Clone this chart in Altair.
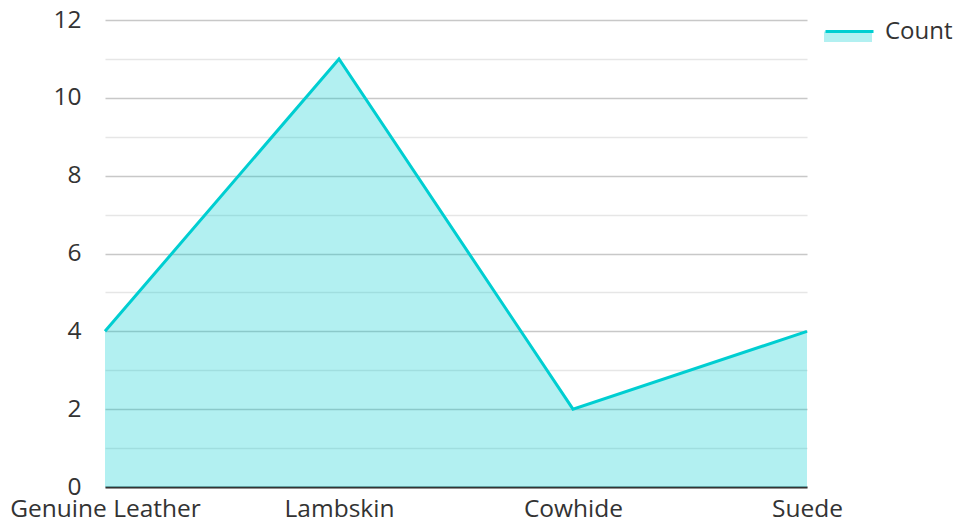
import altair as alt
import pandas as pd

categories = ["Genuine Leather", "Lambskin", "Cowhide", "Suede"]
counts = [4, 11, 2, 4]
series_name = "Count"
y_ticks = list(range(0, 13))

df = pd.DataFrame({"category": categories, "value": counts, "series": [series_name] * len(categories)})

FONT = "Open Sans"
TEAL = "#00CED1"

x_enc = alt.X(
    "category:N",
    sort=categories,
    scale=alt.Scale(type="point", padding=0),
    axis=alt.Axis(
        title=None, labelAngle=0, ticks=False, grid=False,
        domain=True, domainColor="#333333", domainWidth=2,
        labelFont=FONT, labelFontSize=24.5, labelColor="#333333", labelPadding=10,
        labelLimit=400,
    ),
)
y_enc = alt.Y(
    "value:Q",
    scale=alt.Scale(domain=[0, 12], nice=False),
    axis=alt.Axis(
        title=None, values=y_ticks, ticks=False, domain=False,
        grid=True,
        gridColor=alt.ConditionalAxisColor(condition={"test": "datum.value % 2 === 0", "value": "#c8c8c8"}, value="#e6e6e6"),
        gridWidth=1.5,
        labelExpr="datum.value % 2 === 0 ? datum.label : ''",
        labelFont=FONT, labelFontSize=24.5, labelColor="#333333", labelPadding=24,
    ),
)

area = alt.Chart(df).mark_area(fillOpacity=0.3, strokeWidth=0).encode(
    x=x_enc, y=y_enc,
    fill=alt.Fill(
        "series:N",
        scale=alt.Scale(range=[TEAL]),
        legend=alt.Legend(
            title=None, orient="none", legendX=719, legendY=-14,
            symbolType="M-1,0.06H1V0.5H-1Z", symbolSize=2304, symbolOpacity=0.3,
            symbolStrokeWidth=0, labelOffset=10,
            labelFont=FONT, labelFontSize=24, labelColor="transparent",
        ),
    ),
)

line = alt.Chart(df).mark_line(strokeWidth=3).encode(
    x=x_enc, y=y_enc,
    stroke=alt.Stroke(
        "series:N",
        scale=alt.Scale(range=[TEAL]),
        legend=alt.Legend(
            title=None, orient="none", legendX=719, legendY=-14,
            symbolType="stroke", symbolSize=2304, symbolStrokeWidth=3,
            labelOffset=10,
            labelFont=FONT, labelFontSize=24, labelColor="#333333",
        ),
    ),
)

chart = alt.layer(area, line).resolve_legend(fill="independent", stroke="independent").properties(
    width=702, height=467,
    autosize=alt.AutoSizeParams(type="none"),
    padding={"left": 97, "top": 12, "right": 149, "bottom": 33},
).configure_view(stroke=None)

chart.save("out.html", embed_options={"renderer": "svg", "actions": False})
